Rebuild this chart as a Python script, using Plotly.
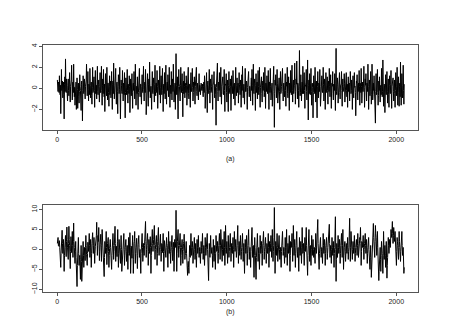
import numpy as np
import plotly.graph_objects as go

# time index (every 2nd sample of 1..2048)
t = np.arange(1, 2049, 2)

series_a = [
 0.8, 0.2, -0.3, 0.6, 0.5, -0.4, 1.2, 0.1, -0.6, 0.3, -2.4, -0.5, 1.8, -0.2, 0.2, 0.7, -0.9, 0.1, 0.6, -0.6, -2.9, 0.4, 1.1, -0.3, 2.8, 0.5, -0.4, 0.9, 0.3, -0.5, -1.2, 0.3,
 0.9, -0.2, -0.7, 0.4, 1.5, -0.6, -1.3, 0.2, 0.4, 0.8, 2.2, -0.3, -1.1, 0.5, 0.6, -0.4, 2.3, 0.3, -0.8, 0.1, -1.6, -0.7, 0.3, 0.6, -2.0, -0.5, 1.0, -0.1, -1.9, 0.4, 0.5, -0.8,
 -1.4, -0.3, 1.3, 0.2, -0.2, -0.9, -2.1, 0.4, 0.7, -0.6, -3.1, -0.2, 1.2, 0.3, -0.5, 0.6, 0.9, -0.4, -1.0, 0.2, 0.4, 0.8, 2.3, -0.3, -0.7, 0.5, 1.6, -0.1, -1.2, 0.4, 0.2, -0.6,
 1.9, 0.3, -0.9, 0.5, 0.6, -0.7, -1.5, 0.1, 2.0, -0.4, -0.3, 0.6, 1.1, -0.2, -1.8, 0.4, 1.7, -0.5, 0.1, 0.3, -1.0, 0.7, 2.1, -0.3, -0.6, 0.4, 0.8, -0.5, -1.3, 0.2, 1.5, -0.4,
 -0.4, 0.5, 2.1, -0.2, -1.6, 0.3, 0.9, -0.5, 1.8, 0.2, -0.8, 0.4, -2.2, -0.3, 1.4, 0.6, -0.2, -0.7, 2.0, 0.1, -1.1, 0.5, 0.5, -0.4, -1.7, 0.2, 1.2, -0.6, 0.3, 0.7, -0.9, 0.2,
 1.6, -0.3, -2.0, 0.4, 0.7, -0.5, 2.4, 0.3, -1.0, -0.2, 0.2, 0.6, 1.9, -0.4, -1.5, 0.5, 0.6, -0.3, -2.4, 0.2, 1.3, 0.7, -0.5, -0.1, 2.0, 0.4, -2.9, -0.6, 0.8, 0.3, -0.3, -0.5,
 1.7, 0.2, -1.2, 0.5, 0.4, -0.6, 1.5, 0.3, -2.8, -0.4, 1.0, 0.1, -0.6, 0.6, 1.8, -0.2, -1.4, 0.4, 0.3, -0.5, 1.2, 0.2, -2.3, -0.3, 0.9, 0.5, -0.7, 0.1, 1.4, -0.4, -1.9, 0.3,
 0.5, -0.2, 1.6, 0.4, -1.0, -0.3, 2.3, 0.6, -1.6, 0.1, 0.2, -0.5, 1.1, 0.3, -2.0, -0.4, 0.7, 0.5, 1.9, -0.2, -0.8, 0.4, 0.4, -0.6, -1.5, 0.2, 1.3, -0.3, -0.4, 0.6, 2.1, -0.1,
 -1.2, 0.3, 0.6, -0.4, 1.8, 0.2, -2.5, -0.5, 0.3, 0.6, 1.4, -0.2, -1.7, 0.4, 0.9, -0.3, 2.5, 0.5, -0.9, 0.1, 0.2, -0.6, -2.0, 0.3, 1.6, -0.4, -0.5, 0.5, 1.0, -0.2, -1.3, 0.4,
 2.2, -0.3, -0.7, 0.5, 0.5, -0.4, 1.7, 0.2, -1.9, -0.5, 0.8, 0.3, -0.2, -0.6, 2.1, 0.4, -1.4, 0.1, 1.2, -0.3, -0.6, 0.6, 1.9, -0.2, -2.2, 0.3, 0.4, -0.5, 1.5, 0.2, -1.0, 0.5,
 2.2, -0.4, -1.5, 0.3, 0.6, -0.2, 1.3, 0.5, -0.8, -0.3, 2.0, 0.4, -1.8, 0.1, 0.3, -0.5, 1.6, 0.2, -1.1, 0.6, 0.9, -0.3, 2.3, 0.4, -1.3, -0.2, 0.5, 0.5, -2.0, -0.4, 3.3, 0.3,
 -0.6, 0.4, 1.1, -0.3, -2.9, 0.2, 1.8, 0.5, 0.2, -0.6, -1.2, 0.3, 2.0, -0.1, -0.4, 0.6, 1.4, -0.3, -2.7, 0.4, 0.7, -0.5, 1.6, 0.2, -0.9, 0.5, 0.3, -0.4, 1.2, 0.3, -1.6, -0.2,
 0.8, 0.3, 2.0, -0.5, -1.0, 0.4, 0.4, -0.2, -1.8, 0.6, 1.5, -0.3, -0.3, 0.5, 1.9, 0.1, -1.2, -0.4, 0.6, 0.3, 1.1, -0.6, -1.5, 0.2, 0.9, 0.4, 2.0, -0.3, -0.7, 0.5, 0.2, -0.4,
 -1.1, 0.2, 1.4, -0.3, 0.3, 0.1, -0.6, -0.2, 0.5, 0.2, -0.2, 0.1, 0.4, -0.3, -0.8, 0.2, 0.6, -0.4, 1.2, 0.3, -1.9, -0.2, 0.2, 0.5, 1.5, -0.3, -2.3, 0.4, 0.7, -0.5, -0.4, 0.3,
 1.8, -0.2, -1.4, 0.5, 0.9, -0.4, -0.3, 0.2, 1.3, -0.5, -2.0, 0.3, 0.5, 0.6, 1.6, -0.2, -0.9, 0.4, 0.2, -0.6, -3.5, 0.1, 1.0, 0.4, 2.4, -0.3, -1.2, 0.5, 0.6, -0.2, 1.5, 0.3,
 -0.8, 0.4, 2.0, -0.3, -1.5, 0.2, 0.4, 0.6, 1.1, -0.5, -0.6, 0.3, 1.8, -0.2, -2.2, 0.4, 0.3, 0.5, 1.4, -0.4, -1.3, 0.2, 0.8, -0.6, -2.2, 0.3, 1.6, 0.1, -0.4, -0.5, 0.9, 0.2,
 -2.1, -0.4, 1.2, 0.3, 0.2, -0.5, 1.7, 0.2, -1.0, 0.4, 0.5, -0.3, -1.6, 0.6, 2.0, -0.2, -0.7, 0.3, 1.0, -0.4, 0.3, 0.5, -1.4, -0.2, 1.5, 0.4, -0.2, -0.6, 0.8, 0.2, -1.8, 0.3,
 1.3, -0.2, 2.1, 0.4, -0.9, 0.3, 0.4, -0.5, -1.5, 0.2, 1.9, -0.3, -0.3, 0.6, 0.7, -0.4, -2.0, 0.1, 1.2, 0.5, 1.6, -0.3, -0.8, 0.2, 0.2, -0.5, -1.2, 0.4, 1.0, -0.2, 1.8, 0.3,
 -1.6, 0.4, 2.3, -0.3, -0.5, 0.5, 0.9, -0.2, -2.1, 0.3, 1.4, -0.4, 0.1, 0.6, -1.0, -0.3, 1.7, 0.2, -0.6, 0.5, 2.0, -0.4, -1.8, 0.1, 0.5, 0.4, 1.1, -0.5, -1.3, 0.3, 0.7, -0.2,
 1.5, 0.3, -0.8, -0.4, 2.0, 0.2, -1.9, 0.5, 0.3, -0.3, 1.2, 0.4, -0.5, -0.2, 1.7, 0.3, -2.0, 0.6, 0.6, -0.4, 1.9, 0.2, -1.1, -0.3, 0.4, 0.5, -1.7, 0.1, 1.4, 0.6, 2.1, -0.3,
 -3.7, -0.5, 0.8, 0.3, 1.3, -0.4, -0.9, 0.2, 1.8, 0.5, -1.4, -0.2, 0.2, 0.4, 1.0, -0.3, -2.0, 0.3, 1.6, -0.5, -0.4, 0.2, 0.7, 0.6, 1.9, -0.3, -1.2, 0.4, 0.5, -0.2, -0.8, 0.3,
 1.4, -0.2, -1.7, 0.4, 0.6, 0.2, 2.0, -0.5, -0.9, 0.3, 1.1, -0.3, -2.1, 0.5, 0.3, -0.4, 1.7, 0.2, -0.6, 0.6, 2.2, -0.2, -1.3, 0.4, 0.8, -0.5, -0.2, 0.3, 2.4, 0.2, -1.5, -0.3,
 0.9, 0.4, 2.6, -0.3, -1.0, 0.5, 0.4, -0.2, -1.8, 0.3, 3.6, 0.2, -0.7, -0.4, 1.3, 0.5, -1.2, 0.1, 0.6, -0.5, 2.1, 0.3, -0.5, 0.4, 1.5, -0.2, -1.9, 0.3, 0.2, 0.6, 1.8, -0.3,
 -1.1, 0.4, 2.7, -0.2, -3.0, 0.3, 0.8, -0.5, 1.4, 0.2, -0.6, 0.5, 1.9, -0.3, -1.6, 0.4, 0.5, 0.1, -2.8, -0.4, 1.2, 0.3, 0.3, -0.5, 2.0, 0.2, -1.3, 0.4, 0.7, -0.3, -2.8, 0.2,
 1.6, 0.3, -0.9, 0.5, 0.4, -0.3, 1.8, 0.2, -1.7, -0.4, 0.6, 0.5, 1.2, -0.2, -0.4, 0.3, 2.0, 0.4, -1.2, -0.3, 0.9, 0.2, -2.0, 0.5, 1.5, -0.4, -0.3, 0.3, 1.1, -0.2, -1.5, 0.4,
 0.7, -0.3, 1.9, 0.2, -0.8, 0.5, 1.3, -0.4, -1.9, 0.3, 0.5, 0.2, 1.6, -0.5, -1.1, 0.4, 0.2, -0.2, 1.4, 0.3, -2.1, 0.5, 3.8, -0.3, -0.6, 0.2, 1.0, 0.4, -1.4, -0.2, 0.8, 0.3,
 1.5, -0.4, -1.0, 0.3, 0.3, 0.5, 1.6, -0.2, -1.7, 0.4, 0.9, -0.3, -0.2, 0.2, 1.4, 0.5, -1.3, -0.4, 0.6, 0.3, 1.5, -0.2, -0.8, 0.4, -1.8, 0.1, 1.1, -0.3, 0.4, 0.5, -1.2, 0.2,
 1.6, 0.3, -0.5, -0.2, 0.8, 0.4, -2.0, 0.2, 1.2, -0.5, -0.9, 0.3, 1.5, 0.1, 0.2, -0.4, -2.6, 0.3, 0.7, 0.5, 1.3, -0.2, -1.1, 0.4, 0.5, -0.3, 1.7, 0.2, -1.6, 0.5, 0.3, -0.4,
 1.9, 0.2, -1.4, 0.4, 0.6, -0.3, -0.3, 0.5, 2.1, 0.1, -1.8, -0.4, 0.9, 0.3, 1.4, -0.2, -1.2, 0.5, 0.4, -0.3, 2.3, 0.2, -2.0, -0.5, 0.8, 0.4, -0.7, 0.1, 1.6, -0.3, -1.5, -0.6,
 2.3, -0.4, -1.1, -0.6, 0.5, -0.2, 1.2, -0.5, -1.9, -0.8, -3.3, -0.3, 1.4, -0.6, -0.4, 0.2, 1.8, -0.4, -1.6, -0.7, 0.7, -0.2, 1.1, -0.5, -1.3, 0.1, 0.3, -0.6, 1.9, 0.2, -0.8, -0.3,
 2.7, 0.2, -1.7, -0.4, 0.4, 0.3, -2.3, -0.5, 1.3, 0.1, -0.6, 0.4, 1.6, -0.3, -1.4, 0.2, 0.9, -0.6, -1.8, 0.3, 1.2, -0.2, -0.5, 0.4, 1.7, -0.5, -1.9, 0.2, 0.6, 0.4, 1.0, -0.3,
 -1.2, 0.3, 0.8, -0.5, -1.8, -0.2, 1.5, 0.4, -0.7, 0.2, 2.0, -0.6, -1.6, 0.3, 1.1, -0.4, -1.7, 0.2, 0.5, -0.8, 2.5, 0.1, -1.6, 0.4, 1.4, -0.5, -0.9, 0.3, 2.2, -0.2, -1.5, 0.4,
]

series_b = [
 1.5, 2.5, 3.0, 1.0, 0.8, 1.8, 2.2, 0.5, -0.5, -1.5, -4.5, -1.0, 1.2, 2.5, 4.8, 1.5, -1.0, 0.5, 2.5, -1.0, -5.5, -1.5, 0.6, 2.0, 3.5, 0.5, -1.8, 2.0, 5.6, 2.5, 0.4, -1.0,
 -2.5, 1.5, 5.8, 2.5, 1.0, -1.5, -4.8, -0.5, 3.2, 1.0, -0.8, 1.5, 4.5, 1.0, -2.0, 2.0, 6.6, 2.0, 0.5, -1.0, -3.5, -0.5, 2.0, -2.0, -6.0, -5.0, -9.3, -4.0, -2.5, 0.5, 3.0, -1.0,
 -4.0, -2.0, -1.5, -3.5, -7.5, -2.5, 1.0, -3.0, -8.0, -4.0, -3.0, -0.5, 2.0, -1.5, -4.5, -1.5, 0.5, -1.0, -2.8, 0.5, 3.5, 1.0, -1.2, -2.5, -4.0, -1.0, 1.8, 0.5, -0.5, 1.5, 4.0, 1.0,
 -2.0, 0.5, 2.5, -1.0, -4.5, -1.0, 1.5, 2.5, 4.2, 1.0, -1.0, 1.0, 3.0, 0.0, -3.5, -1.0, 0.8, 1.5, 2.0, 3.5, 6.8, 2.0, -1.5, 1.0, 3.5, 2.0, 5.5, 1.5, -2.8, -0.5, 1.2, 2.0,
 3.8, 0.5, -3.0, 1.0, 5.0, 2.0, 0.5, -1.0, -2.5, -4.0, -6.8, -2.0, 2.0, 0.5, -1.0, 1.5, 4.5, 0.5, -3.8, -1.0, 1.5, 2.0, 3.0, -0.5, -4.5, -1.5, 0.2, 1.0, 2.5, 0.5, -1.5, -2.5,
 -5.0, -1.5, 2.0, 1.0, 4.0, 1.0, -2.5, -0.5, 1.0, 2.5, 5.8, 1.5, -3.0, -1.0, 0.8, -0.5, -1.8, 2.0, 5.0, 0.5, -4.5, -1.0, 2.5, 1.0, 0.0, -1.5, -3.5, 0.5, 3.5, 0.0, -5.5, -3.0,
 -2.0, -0.5, 1.5, 2.5, 4.0, 0.0, -4.0, -1.5, 0.5, 1.0, 2.5, -0.5, -3.0, -1.0, 1.0, -2.0, -5.0, -1.0, 3.0, 1.0, -1.5, 1.5, 4.2, 0.5, -6.0, -2.5, 0.8, -0.5, -2.2, 1.0, 3.5, -1.0,
 -6.0, -2.5, 1.5, 2.0, 4.5, 0.5, -3.5, -1.0, 0.5, 1.5, 2.8, -1.0, -4.8, -1.5, 1.2, 2.0, 3.5, 0.5, -2.0, -0.5, 0.0, -2.5, -6.0, -1.0, 2.2, 1.0, 4.0, 0.5, -3.0, -1.0, 1.5, 0.5,
 -1.5, 1.0, 3.5, 4.5, 7.0, 2.0, -2.0, 0.0, 1.5, 2.5, 4.0, 1.0, -4.0, -0.5, 2.5, 1.0, -1.0, 1.5, 3.2, 0.5, -6.0, -1.5, 1.0, 2.5, 5.0, 1.5, -0.5, 1.0, 2.5, 3.5, 6.0, 1.0,
 -2.5, 0.0, 1.2, 2.0, 3.5, 0.5, -4.0, -1.0, 2.0, 3.0, 5.5, 1.0, -1.5, 0.5, 0.8, 2.0, 3.8, 0.0, -3.0, -0.5, 1.5, 0.5, -0.8, 1.5, 4.0, -0.5, -5.5, -1.0, 2.2, 1.0, 0.5, -0.5,
 -2.0, 0.5, 3.0, 1.5, 1.0, -1.5, -4.5, 0.0, 4.5, 1.5, -1.0, 0.5, 2.0, -0.5, -3.5, -1.0, 0.5, 1.5, 3.5, 0.0, -2.8, -0.5, 1.8, 0.5, -5.5, -1.0, 2.5, 1.0, 0.5, 2.0, 9.8, 1.5,
 -5.5, -1.0, 2.0, 3.0, 5.0, 1.0, -2.0, 0.0, 1.0, 2.0, 4.0, 0.5, -4.0, -1.5, 0.5, 1.0, 2.5, 0.0, -3.5, -0.5, 1.5, 2.0, 3.8, 0.5, -2.5, -1.5, -1.0, 0.5, 2.0, -1.0, -4.0, -2.5,
 -6.5, -4.0, -3.0, -4.5, -6.0, -2.0, 1.0, -1.0, -2.0, 1.0, 4.0, 0.5, -1.5, 0.0, 2.0, 0.5, -3.5, -1.0, 0.5, 1.5, 3.0, 0.0, -2.5, -1.0, 1.5, 0.0, -4.5, -1.5, 2.5, 0.5, -1.0, 1.0,
 3.5, 0.5, -2.0, -0.5, 0.5, -1.0, -3.5, -0.5, 2.0, 0.5, -1.0, 1.0, 4.0, 0.5, -2.5, -1.0, 1.0, -0.5, -4.0, -1.0, 3.0, 0.5, -1.5, -0.5, 0.5, 1.5, 4.0, 0.0, -3.0, -4.0, -7.8, -2.0,
 1.5, 0.0, -2.0, 0.5, 3.5, 0.5, -1.0, -0.5, 0.5, -1.5, -4.5, -1.0, 2.5, 0.0, -3.0, -1.0, 1.0, -1.5, -5.0, -1.0, 3.5, 1.0, -0.5, 0.5, 2.0, -0.5, -3.5, -1.0, 1.0, 2.0, 4.0, 1.0,
 -2.5, 1.0, 5.0, 1.5, 0.5, -1.0, -3.0, 0.0, 2.5, 0.5, -1.5, 1.5, 4.5, 0.5, -4.0, 0.0, 6.0, 1.5, -1.0, 0.5, 2.0, -0.5, -3.5, -0.5, 3.5, 0.5, -2.0, -0.5, 0.5, 2.0, 4.0, 0.5,
 -3.0, -1.0, 1.5, 0.0, -1.0, 1.0, 3.0, 0.0, -4.5, 0.0, 4.5, 1.5, -0.5, 0.5, 2.5, 0.0, -2.0, -0.5, 1.0, 2.5, 6.0, 1.0, -3.5, -0.5, 2.0, 0.5, -1.5, 1.0, 3.5, 0.0, -2.5, -0.5,
 0.5, 2.0, 4.0, 0.5, -3.0, -0.5, 1.5, -1.5, -6.0, -1.0, 2.5, 0.5, -1.0, 1.0, 3.5, 0.0, -4.0, -1.0, 1.0, 2.5, 5.0, 1.0, -2.5, -0.5, 0.5, -1.5, -4.5, -0.5, 2.0, 3.0, 5.5, 1.0,
 -2.0, -0.5, 1.0, -2.5, -7.0, -1.5, 3.0, 0.5, -1.5, -3.5, -7.5, -2.0, 2.0, 1.0, 4.0, 0.5, -3.0, -1.0, 0.5, -1.5, -5.0, -1.0, 3.5, 1.0, -1.0, 0.5, 2.0, 0.0, -4.0, -1.0, 1.5, 2.5,
 4.5, 1.0, -2.5, -0.5, 0.5, 1.5, 3.0, 0.0, -3.5, -1.0, 1.5, 0.5, -1.0, 1.5, 4.0, 0.5, -4.5, -1.0, 2.0, 0.5, -0.5, 1.5, 3.5, 0.5, -2.0, 1.0, 5.0, 1.0, -3.0, -0.5, 1.0, 3.0,
 10.5, 1.0, -6.0, -1.5, 2.0, 0.5, -1.5, 1.0, 4.0, 0.5, -3.0, -0.5, 1.0, 2.0, 3.5, 0.0, -2.5, -0.5, 0.5, -1.5, -4.5, -0.5, 2.5, 1.5, 4.5, 1.0, -1.5, -0.5, 0.5, -1.0, -3.5, -0.5,
 3.0, 0.5, -2.0, 1.5, 5.0, 0.5, -4.0, -1.0, 1.5, 0.0, -1.0, 1.0, 3.5, -1.0, -5.5, -1.5, 2.0, 1.0, 0.5, 2.0, 4.0, 0.5, -3.0, 1.0, 6.0, 1.5, -1.5, 0.5, 2.5, -1.0, -4.5, -1.0,
 1.0, 2.5, 4.5, 0.5, -2.0, -0.5, 0.5, -2.0, -5.5, -1.0, 3.0, 0.5, -1.5, 0.0, 2.0, -0.5, -3.5, 0.5, 5.5, 1.5, -1.0, 0.0, 1.5, -1.0, -4.0, -0.5, 3.0, 0.5, -0.5, 2.0, 5.5, 1.0,
 -2.5, -3.5, -6.5, -1.5, 2.0, 2.5, 5.0, 1.0, -3.0, -1.0, 1.0, -1.0, -4.0, 0.0, 3.5, 0.5, -1.5, 0.5, 2.5, 0.0, -2.0, -0.5, 0.5, -1.0, -3.5, 0.5, 4.0, 1.0, -1.0, 0.5, 2.0, 4.0,
 7.5, 1.5, -3.0, -4.0, -5.0, -1.0, 1.5, 2.0, 3.0, 0.0, -2.0, -0.5, 0.5, -1.0, -3.5, 0.5, 4.0, 1.0, -1.0, 0.5, 2.5, -0.5, -4.0, -1.0, 1.0, 2.0, 3.0, 0.5, -2.5, -1.0, 0.5, 2.0,
 4.5, 5.0, 6.3, 1.5, -2.0, -0.5, 1.0, -1.0, -3.5, 0.0, 3.0, 0.5, -1.5, 0.5, 2.0, -1.0, -4.5, -1.0, 0.5, 3.0, 8.2, 0.0, -8.0, -2.5, 1.5, 0.0, -2.0, 0.5, 3.5, 0.5, -1.0, 0.5,
 2.5, 0.0, -3.5, -1.0, 1.0, 2.0, 4.0, 1.0, -2.0, 1.0, 5.0, 0.0, -5.0, -1.5, 0.5, 1.0, 2.0, -0.5, -3.0, -1.0, 1.5, 0.5, -1.0, 1.0, 3.0, 0.0, -2.5, -0.5, 0.5, 3.0, 7.8, 2.0,
 -3.0, 0.5, 4.5, 2.0, 1.0, -0.5, -2.5, 0.0, 2.0, 0.5, -1.0, 1.0, 3.5, 0.5, -3.0, -1.0, 0.5, 1.5, 2.5, 0.5, -1.5, 1.0, 4.0, 1.5, -2.0, 0.0, 1.0, 1.5, 3.0, 2.5, 5.5, 1.5,
 -4.0, -0.5, 2.0, 1.0, 0.5, 2.0, 3.5, 0.5, -2.5, 0.0, 1.5, 2.5, 4.0, 1.0, -1.0, 1.0, 2.5, 0.0, -3.5, -1.0, 0.5, 1.5, 3.0, 0.0, -2.0, -3.0, -5.0, -2.0, 1.0, -2.5, -7.0, -4.0,
 -6.8, -2.0, 2.5, 4.0, 6.5, 3.0, 1.0, -0.5, -2.0, 2.0, 6.0, 4.0, 3.0, 1.0, -1.5, 1.5, 4.5, 0.5, -3.0, -5.0, -7.8, -5.5, -4.0, -2.0, 0.5, -2.5, -5.5, -1.5, 2.0, 0.5, -1.0, -3.5,
 -6.0, -1.5, 4.5, 1.0, -2.5, -1.0, 1.0, -1.5, -4.5, -1.0, 2.0, -2.0, -7.2, -4.0, -2.0, 0.5, 3.0, 1.0, -1.0, 0.5, 2.5, 1.5, 0.5, 2.5, 5.0, 4.0, 3.0, 5.0, 7.0, 4.0, 1.5, 3.5,
 5.5, 3.5, 2.0, 3.0, 4.5, 1.5, -1.0, -2.5, -4.0, -0.5, 3.0, 2.0, 1.0, -0.5, -2.5, 0.5, 4.5, 2.0, 0.5, -1.0, -3.0, -0.5, 2.0, 3.5, 4.5, 1.0, -1.5, 0.0, 0.5, -2.5, -6.0, -4.5,
]

x_ticks = [0, 500, 1000, 1500, 2000]
ya_ticks = [-2, 0, 2, 4]
yb_ticks = [-10, -5, 0, 5, 10]
captions = ["(a)", "(b)"]

W, H = 474, 335
def px_x(v):
    return v / W
def px_y(v):
    return 1 - v / H

fig = go.Figure()
fig.add_trace(go.Scatter(x=t, y=series_a, mode="lines",
                         line=dict(color="black", width=1.0),
                         xaxis="x", yaxis="y", showlegend=False, hoverinfo="skip"))
fig.add_trace(go.Scatter(x=t, y=series_b, mode="lines",
                         line=dict(color="black", width=1.0),
                         xaxis="x2", yaxis="y2", showlegend=False, hoverinfo="skip"))

font = dict(family="Liberation Sans, Arial, sans-serif", size=7, color="#222222")
axis_common = dict(showline=True, linecolor="#555555", linewidth=1, mirror=True,
                   ticks="outside", ticklen=3, tickcolor="#555555", tickwidth=1,
                   showgrid=False, zeroline=False, tickfont=font)

xdom = [px_x(43.3), px_x(418.3)]
fig.update_layout(
    width=W, height=H,
    margin=dict(l=0, r=0, t=0, b=0),
    paper_bgcolor="white", plot_bgcolor="white",
    xaxis=dict(domain=xdom, range=[-82, 2130], tickvals=x_ticks, anchor="y", **axis_common),
    yaxis=dict(domain=[px_y(130), px_y(44)], range=[-3.96, 4.09], tickvals=ya_ticks,
               tickangle=-90, anchor="x", **axis_common),
    xaxis2=dict(domain=xdom, range=[-82, 2130], tickvals=x_ticks, anchor="y2", **axis_common),
    yaxis2=dict(domain=[px_y(294), px_y(205.7)], range=[-10.57, 11.23], tickvals=yb_ticks,
                tickangle=-90, anchor="x2", **axis_common),
    annotations=[
        dict(text=captions[0], x=px_x(230), y=px_y(159), xref="paper", yref="paper",
             showarrow=False, font=font),
        dict(text=captions[1], x=px_x(230), y=px_y(320.5), xref="paper", yref="paper",
             showarrow=False, font=font),
    ],
)

fig.write_html("out.html")
